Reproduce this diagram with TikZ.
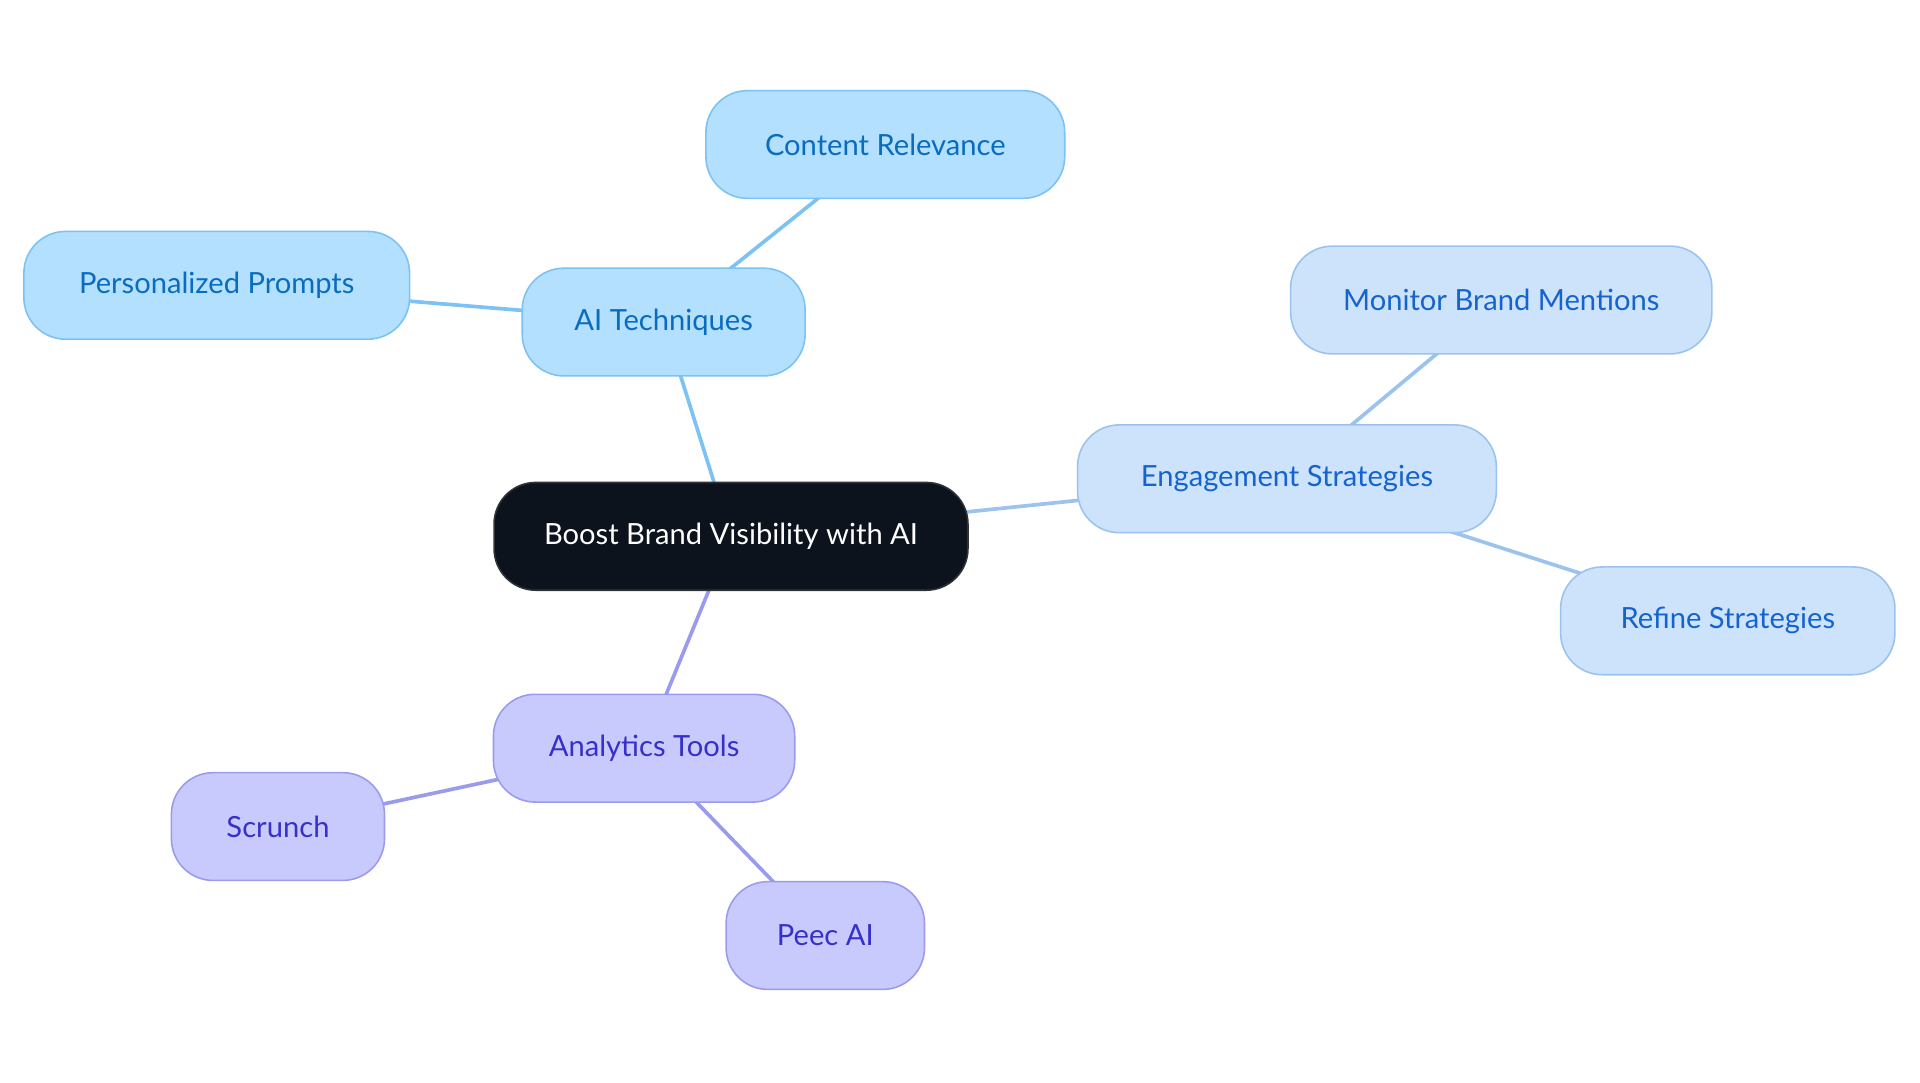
\documentclass[tikz,border=0pt]{standalone}
\usepackage{fontspec}
\setmainfont{Lato}
\usetikzlibrary{backgrounds}
\definecolor{aifill}{HTML}{B3E0FF}
\definecolor{aidraw}{HTML}{7DC2F2}
\definecolor{aitext}{HTML}{0A6CBF}
\definecolor{enfill}{HTML}{CDE3FB}
\definecolor{endraw}{HTML}{9CC2EE}
\definecolor{entext}{HTML}{1463CF}
\definecolor{anfill}{HTML}{C8CAFD}
\definecolor{andraw}{HTML}{9B9BEE}
\definecolor{antext}{HTML}{3730C8}
\definecolor{rootfill}{HTML}{0D131C}
\definecolor{rootdraw}{HTML}{2F3236}
\begin{document}
\begin{tikzpicture}[x=1pt,y=-1pt,
  box/.style={rectangle, rounded corners=34pt, minimum height=88pt, line width=1.3pt, inner sep=0pt, font=\fontsize{23.8}{28}\selectfont},
  rootbox/.style={box, fill=rootfill, draw=rootdraw, text=white},
  aibox/.style={box, fill=aifill, draw=aidraw, text=aitext},
  enbox/.style={box, fill=enfill, draw=endraw, text=entext},
  anbox/.style={box, fill=anfill, draw=andraw, text=antext},
  ailine/.style={draw=aidraw, line width=3pt},
  enline/.style={draw=endraw, line width=3pt},
  anline/.style={draw=andraw, line width=3pt}]
\useasboundingbox (0,0) rectangle (1568,884);
\node[rootbox, minimum width=387pt] (root) at (597,438) {Boost Brand Visibility with AI};
\node[aibox, minimum width=231pt] (ait) at (542,263) {AI Techniques};
\node[aibox, minimum width=293pt] (cr) at (723,118) {Content Relevance};
\node[aibox, minimum width=315pt] (pp) at (177,233) {Personalized Prompts};
\node[enbox, minimum width=342pt] (es) at (1051,391) {Engagement Strategies};
\node[enbox, minimum width=344pt] (mb) at (1226,245) {Monitor Brand Mentions};
\node[enbox, minimum width=273pt] (rs) at (1411,507) {Refine Strategies};
\node[anbox, minimum width=246pt] (at) at (526,611) {Analytics Tools};
\node[anbox, minimum width=174pt] (sc) at (227,675) {Scrunch};
\node[anbox, minimum width=162pt] (pa) at (674,764) {Peec AI};
\begin{scope}[on background layer]
\path[ailine] (root.center) -- (ait.center);
\path[ailine] (ait.center) -- (cr.center);
\path[ailine] (ait.center) -- (pp.center);
\path[enline] (root.center) -- (es.center);
\path[enline] (es.center) -- (mb.center);
\path[enline] (es.center) -- (rs.center);
\path[anline] (root.center) -- (at.center);
\path[anline] (at.center) -- (sc.center);
\path[anline] (at.center) -- (pa.center);
\end{scope}
\end{tikzpicture}
\end{document}
